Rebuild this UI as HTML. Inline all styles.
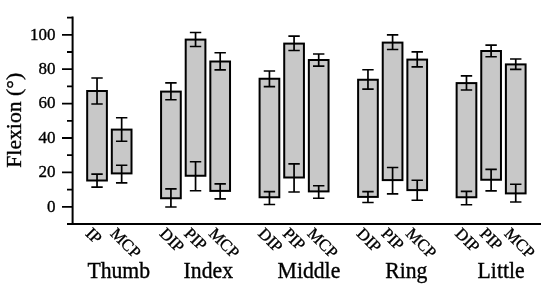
<!DOCTYPE html>
<html><head><meta charset="utf-8"><style>
html,body{margin:0;padding:0;background:#fff;}
svg{display:block;}
text{font-family:"Liberation Serif","Times New Roman",serif;fill:#000;stroke:#000;stroke-width:0.35px;}
</style></head><body>
<svg width="550" height="288" viewBox="0 0 550 288">
<rect width="550" height="288" fill="#fff"/>
<rect x="87.18" y="91.00" width="19.70" height="89.50" fill="#c8c8c8" stroke="#000" stroke-width="2.0"/>
<path d="M97.03 78.00V104.00M97.03 174.10V187.10" stroke="#000" stroke-width="1.7" fill="none"/>
<path d="M91.33 78.00H102.73M91.33 104.00H102.73M91.33 174.10H102.73M91.33 187.10H102.73" stroke="#000" stroke-width="1.7" fill="none"/>
<rect x="111.81" y="129.60" width="19.70" height="43.80" fill="#c8c8c8" stroke="#000" stroke-width="2.0"/>
<path d="M121.66 117.75V141.25M121.66 165.25V182.90" stroke="#000" stroke-width="1.7" fill="none"/>
<path d="M115.96 117.75H127.36M115.96 141.25H127.36M115.96 165.25H127.36M115.96 182.90H127.36" stroke="#000" stroke-width="1.7" fill="none"/>
<rect x="161.07" y="91.60" width="19.70" height="106.65" fill="#c8c8c8" stroke="#000" stroke-width="2.0"/>
<path d="M170.92 82.90V99.75M170.92 188.90V207.00" stroke="#000" stroke-width="1.7" fill="none"/>
<path d="M165.22 82.90H176.62M165.22 99.75H176.62M165.22 188.90H176.62M165.22 207.00H176.62" stroke="#000" stroke-width="1.7" fill="none"/>
<rect x="185.70" y="39.60" width="19.70" height="136.15" fill="#c8c8c8" stroke="#000" stroke-width="2.0"/>
<path d="M195.55 32.50V46.50M195.55 161.75V190.75" stroke="#000" stroke-width="1.7" fill="none"/>
<path d="M189.85 32.50H201.25M189.85 46.50H201.25M189.85 161.75H201.25M189.85 190.75H201.25" stroke="#000" stroke-width="1.7" fill="none"/>
<rect x="210.33" y="61.50" width="19.70" height="129.40" fill="#c8c8c8" stroke="#000" stroke-width="2.0"/>
<path d="M220.18 52.75V69.90M220.18 183.90V198.90" stroke="#000" stroke-width="1.7" fill="none"/>
<path d="M214.48 52.75H225.88M214.48 69.90H225.88M214.48 183.90H225.88M214.48 198.90H225.88" stroke="#000" stroke-width="1.7" fill="none"/>
<rect x="259.59" y="78.75" width="19.70" height="118.50" fill="#c8c8c8" stroke="#000" stroke-width="2.0"/>
<path d="M269.44 71.00V86.60M269.44 191.60V204.50" stroke="#000" stroke-width="1.7" fill="none"/>
<path d="M263.74 71.00H275.14M263.74 86.60H275.14M263.74 191.60H275.14M263.74 204.50H275.14" stroke="#000" stroke-width="1.7" fill="none"/>
<rect x="284.22" y="43.60" width="19.70" height="133.90" fill="#c8c8c8" stroke="#000" stroke-width="2.0"/>
<path d="M294.07 36.10V50.50M294.07 163.90V192.00" stroke="#000" stroke-width="1.7" fill="none"/>
<path d="M288.37 36.10H299.77M288.37 50.50H299.77M288.37 163.90H299.77M288.37 192.00H299.77" stroke="#000" stroke-width="1.7" fill="none"/>
<rect x="308.85" y="60.00" width="19.70" height="131.40" fill="#c8c8c8" stroke="#000" stroke-width="2.0"/>
<path d="M318.70 54.00V66.10M318.70 185.75V198.25" stroke="#000" stroke-width="1.7" fill="none"/>
<path d="M313.00 54.00H324.40M313.00 66.10H324.40M313.00 185.75H324.40M313.00 198.25H324.40" stroke="#000" stroke-width="1.7" fill="none"/>
<rect x="358.11" y="79.75" width="19.70" height="117.15" fill="#c8c8c8" stroke="#000" stroke-width="2.0"/>
<path d="M367.96 69.75V89.10M367.96 191.60V202.50" stroke="#000" stroke-width="1.7" fill="none"/>
<path d="M362.26 69.75H373.66M362.26 89.10H373.66M362.26 191.60H373.66M362.26 202.50H373.66" stroke="#000" stroke-width="1.7" fill="none"/>
<rect x="382.74" y="42.60" width="19.70" height="137.50" fill="#c8c8c8" stroke="#000" stroke-width="2.0"/>
<path d="M392.59 34.90V49.50M392.59 167.50V193.90" stroke="#000" stroke-width="1.7" fill="none"/>
<path d="M386.89 34.90H398.29M386.89 49.50H398.29M386.89 167.50H398.29M386.89 193.90H398.29" stroke="#000" stroke-width="1.7" fill="none"/>
<rect x="407.37" y="59.60" width="19.70" height="130.50" fill="#c8c8c8" stroke="#000" stroke-width="2.0"/>
<path d="M417.22 51.90V66.90M417.22 180.25V200.25" stroke="#000" stroke-width="1.7" fill="none"/>
<path d="M411.52 51.90H422.92M411.52 66.90H422.92M411.52 180.25H422.92M411.52 200.25H422.92" stroke="#000" stroke-width="1.7" fill="none"/>
<rect x="456.63" y="83.10" width="19.70" height="114.15" fill="#c8c8c8" stroke="#000" stroke-width="2.0"/>
<path d="M466.48 75.90V90.00M466.48 191.40V204.75" stroke="#000" stroke-width="1.7" fill="none"/>
<path d="M460.78 75.90H472.18M460.78 90.00H472.18M460.78 191.40H472.18M460.78 204.75H472.18" stroke="#000" stroke-width="1.7" fill="none"/>
<rect x="481.26" y="51.00" width="19.70" height="128.75" fill="#c8c8c8" stroke="#000" stroke-width="2.0"/>
<path d="M491.11 45.10V56.75M491.11 169.40V190.90" stroke="#000" stroke-width="1.7" fill="none"/>
<path d="M485.41 45.10H496.81M485.41 56.75H496.81M485.41 169.40H496.81M485.41 190.90H496.81" stroke="#000" stroke-width="1.7" fill="none"/>
<rect x="505.89" y="64.40" width="19.70" height="129.00" fill="#c8c8c8" stroke="#000" stroke-width="2.0"/>
<path d="M515.74 59.00V69.40M515.74 184.25V202.00" stroke="#000" stroke-width="1.7" fill="none"/>
<path d="M510.04 59.00H521.44M510.04 69.40H521.44M510.04 184.25H521.44M510.04 202.00H521.44" stroke="#000" stroke-width="1.7" fill="none"/>
<path d="M72.6 16.6V225M67 224H541" stroke="#000" stroke-width="2" fill="none"/>
<path d="M67 224.00H72.6M62 206.80H72.6M67 189.60H72.6M62 172.40H72.6M67 155.20H72.6M62 138.00H72.6M67 120.80H72.6M62 103.60H72.6M67 86.40H72.6M62 69.20H72.6M67 52.00H72.6M62 34.80H72.6M67 17.60H72.6" stroke="#000" stroke-width="1.8" fill="none"/>
<text transform="translate(55.4 211.60) scale(1 1.0)" text-anchor="end" font-size="17">0</text>
<text transform="translate(55.4 177.20) scale(1 1.0)" text-anchor="end" font-size="17">20</text>
<text transform="translate(55.4 142.80) scale(1 1.0)" text-anchor="end" font-size="17">40</text>
<text transform="translate(55.4 108.40) scale(1 1.0)" text-anchor="end" font-size="17">60</text>
<text transform="translate(55.4 74.00) scale(1 1.0)" text-anchor="end" font-size="17">80</text>
<text transform="translate(55.4 39.60) scale(1 1.0)" text-anchor="end" font-size="17">100</text>
<text transform="translate(21.2 120.3) rotate(-90) scale(1 1.0)" text-anchor="middle" font-size="21.7">Flexion (°)</text>
<text transform="translate(93.33 226.0) rotate(45)" font-size="16.5" dominant-baseline="hanging">IP</text>
<text transform="translate(117.96 226.0) rotate(45)" font-size="16.5" dominant-baseline="hanging">MCP</text>
<text transform="translate(167.22 226.0) rotate(45)" font-size="16.5" dominant-baseline="hanging">DIP</text>
<text transform="translate(191.85 226.0) rotate(45)" font-size="16.5" dominant-baseline="hanging">PIP</text>
<text transform="translate(216.48 226.0) rotate(45)" font-size="16.5" dominant-baseline="hanging">MCP</text>
<text transform="translate(265.74 226.0) rotate(45)" font-size="16.5" dominant-baseline="hanging">DIP</text>
<text transform="translate(290.37 226.0) rotate(45)" font-size="16.5" dominant-baseline="hanging">PIP</text>
<text transform="translate(315.00 226.0) rotate(45)" font-size="16.5" dominant-baseline="hanging">MCP</text>
<text transform="translate(364.26 226.0) rotate(45)" font-size="16.5" dominant-baseline="hanging">DIP</text>
<text transform="translate(388.89 226.0) rotate(45)" font-size="16.5" dominant-baseline="hanging">PIP</text>
<text transform="translate(413.52 226.0) rotate(45)" font-size="16.5" dominant-baseline="hanging">MCP</text>
<text transform="translate(462.78 226.0) rotate(45)" font-size="16.5" dominant-baseline="hanging">DIP</text>
<text transform="translate(487.41 226.0) rotate(45)" font-size="16.5" dominant-baseline="hanging">PIP</text>
<text transform="translate(512.04 226.0) rotate(45)" font-size="16.5" dominant-baseline="hanging">MCP</text>
<text transform="translate(87.4 277.6) scale(1 1.07)" font-size="21.7">Thumb</text>
<text transform="translate(183.6 277.6) scale(1 1.07)" font-size="21.7">Index</text>
<text transform="translate(277.6 277.6) scale(1 1.07)" font-size="21.7">Middle</text>
<text transform="translate(385.2 277.6) scale(1 1.07)" font-size="21.7">Ring</text>
<text transform="translate(477.6 277.6) scale(1 1.07)" font-size="21.7">Little</text>
</svg>
</body></html>
